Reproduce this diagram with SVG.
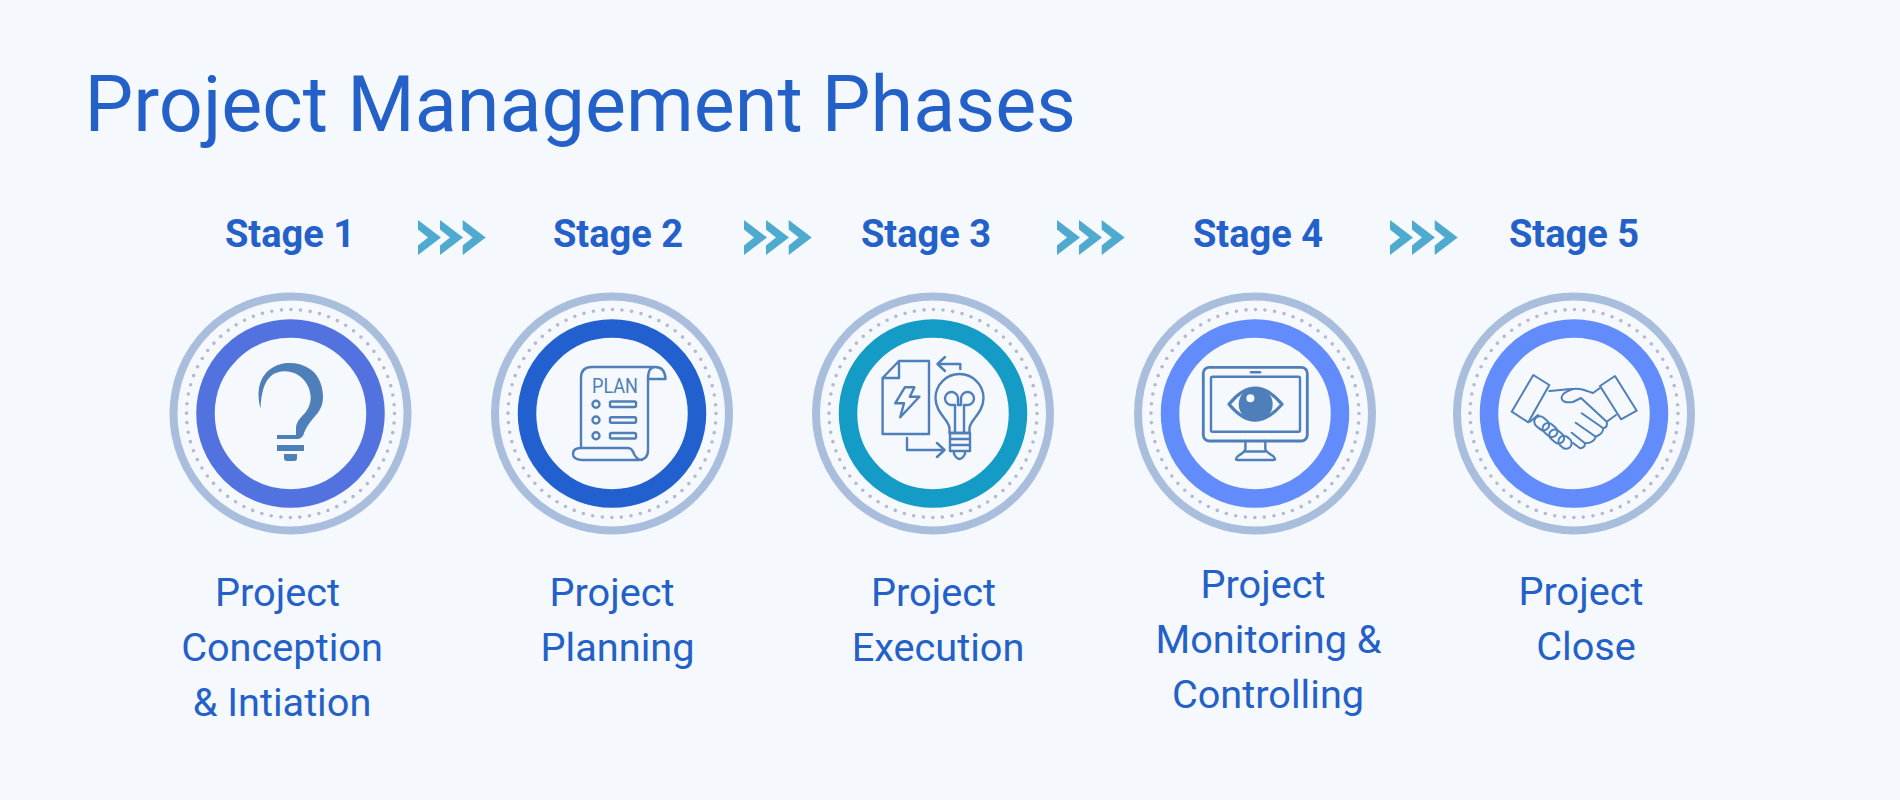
<svg xmlns="http://www.w3.org/2000/svg" width="1900" height="800" viewBox="0 0 1900 800">
<style>
text{font-family:Roboto,"Liberation Sans",sans-serif;fill:#2360C8}
.title{font-size:77.3px}
.stage{font-size:38px;font-weight:700;text-anchor:middle}
.lbl{font-size:39.7px;text-anchor:middle}
.outer{fill:none;stroke:#A9BEDC;stroke-width:8}
.dots{fill:none;stroke:#B4BAC8;stroke-width:3.6;stroke-linecap:round;stroke-dasharray:0 9.61}
.ring{fill:#F5F8FD;stroke-width:18.5}
.ic{fill:none;stroke:#4F7FB8;stroke-width:2.4;stroke-linejoin:round;stroke-linecap:round}
.icf{fill:#4F7FB8}
.chev{fill:#4EAACE}
</style>
<defs>
<path id="ch" class="chev" d="M0 0L23 17.500L0 35V25.500L10 17.500L0 9.500Z"/>
<g id="chevs"><use href="#ch"/><use href="#ch" x="22"/><use href="#ch" x="44.7"/></g>
</defs>
<rect width="1900" height="800" fill="#F5F8FD"/>
<text class="title" x="84.600" y="131">Project Management Phases</text>
<g id="connectors">
<use href="#chevs" x="418" y="220"/>
<use href="#chevs" x="744" y="220"/>
<use href="#chevs" x="1057" y="220"/>
<use href="#chevs" x="1390" y="220"/>
</g>
<g id="stage1">
<text class="stage" x="290" y="246.500">Stage 1</text>
<circle class="outer" cx="290.5" cy="413.5" r="117"/><circle class="dots" cx="290.5" cy="413.5" r="104"/>
<circle class="ring" cx="290.5" cy="413.5" r="85" stroke="#5272E0"/>
<path class="icf" d="M260.600 408.300C256 392 259 376 272 368C280 362.500 296 360 310 369C320 376 323 388 323 397C323 406 319 412 314.600 416.700C309 423 306 428 304 433C303 437 300 439 297 439H277V435H296V428C296 422 301 417 305 413C309 408 311 402 310.700 396.700C310 388 306 380 298 375C290 370 278 370 271 376C264 382 261 394 260.600 408.300Z"/>
<rect class="icf" x="277" y="445" width="27" height="6"/>
<path class="icf" d="M284 454H297V458Q297 461 294 461H287Q284 461 284 458Z"/>
<text class="lbl" x="277.5" y="606">Project</text><text class="lbl" x="282" y="661">Conception</text><text class="lbl" x="282" y="716">&amp; Intiation</text>
</g>
<g id="stage2">
<text class="stage" x="618" y="246.500">Stage 2</text>
<circle class="outer" cx="612" cy="413.5" r="117"/><circle class="dots" cx="612" cy="413.5" r="104"/>
<circle class="ring" cx="612" cy="413.5" r="85" stroke="#2160CE"/>
<path class="ic" d="M581 448V378Q581 367 592 367H655Q665 367 665.5 379H648V450Q648 460 638 460H583Q573 460 573 454Q573 448 581 448H628Q632 448 634 454Q637 460 642 460M655 367Q648 367 648 379"/>
<text x="592" y="393" textLength="46" lengthAdjust="spacingAndGlyphs" style="font-size:19.5px;fill:#4F7FB8">PLAN</text>
<circle class="ic" cx="596" cy="404.3" r="3.5"/><circle class="ic" cx="596" cy="420" r="3.5"/><circle class="ic" cx="596" cy="435.7" r="3.5"/>
<rect class="ic" x="610" y="401.5" width="26" height="5.5" rx="1.5"/><rect class="ic" x="610" y="417.2" width="26" height="5.5" rx="1.5"/><rect class="ic" x="610" y="433" width="26" height="5.5" rx="1.5"/>
<text class="lbl" x="612" y="606">Project</text><text class="lbl" x="617.500" y="661">Planning</text>
</g>
<g id="stage3">
<text class="stage" x="926" y="246.500">Stage 3</text>
<circle class="outer" cx="933" cy="413.5" r="117"/><circle class="dots" cx="933" cy="413.5" r="104"/>
<circle class="ring" cx="933" cy="413.5" r="85" stroke="#149CC6"/>
<path class="ic" d="M882.6 378L899 361H929V434H882.6ZM882.6 378H899V361"/>
<path class="ic" d="M904.8 387.3L895.2 403.3H904L900.2 417.3L919.4 396.7H909.8L914.4 387.3Z"/>
<path class="ic" d="M960.3 369V364H938M945 357L937.5 364L945 371"/>
<path class="ic" d="M949.5 433V428C949 420 935.5 413 935.5 398A24 24 0 0 1 983.5 398C983.5 413 970 420 969.5 428V433Z"/>
<path class="ic" d="M955 433V405H952A6.5 6.5 0 1 1 958 398V405H961V398A6.5 6.5 0 1 1 967 405H964V433"/>
<path class="ic" d="M950 433H970V451H950ZM950 439H970M950 445H970M954 451V454Q959.500 464 965 454V451"/>
<path class="ic" d="M907 438V450H943M937 443L944.500 450L937 457"/>
<text class="lbl" x="933.500" y="606">Project</text><text class="lbl" x="938" y="661">Execution</text>
</g>
<g id="stage4">
<text class="stage" x="1258" y="246.500">Stage 4</text>
<circle class="outer" cx="1255" cy="413.5" r="117"/><circle class="dots" cx="1255" cy="413.5" r="104"/>
<circle class="ring" cx="1255" cy="413.5" r="85" stroke="#628BFB"/>
<rect class="ic" x="1203.300" y="367.300" width="104" height="73.700" rx="6" style="stroke-width:2.8"/>
<rect class="ic" x="1211" y="376.700" width="89" height="55" rx="1.500"/>
<path class="ic" d="M1251 372.300H1260"/>
<path class="ic" d="M1229 404.300Q1255 372 1282 404.300Q1255 436 1229 404.300Z" style="stroke-width:3.200"/>
<circle class="icf" cx="1255.700" cy="404.300" r="17"/><circle cx="1250.400" cy="398.300" r="4" fill="#F5F8FD"/>
<path class="ic" d="M1245.400 441V449Q1245 452 1238 456Q1234 460 1238 460H1273Q1277 460 1273 456Q1266 452 1265.300 449V441M1245 451.500H1265"/>
<text class="lbl" x="1263" y="598.300">Project</text><text class="lbl" x="1268.500" y="653.300">Monitoring &amp;</text><text class="lbl" x="1268" y="708.300">Controlling</text>
</g>
<g id="stage5">
<text class="stage" x="1574" y="246.500">Stage 5</text>
<circle class="outer" cx="1574" cy="413.500" r="117"/><circle class="dots" cx="1574" cy="413.500" r="104"/>
<circle class="ring" cx="1574" cy="413.500" r="85" stroke="#628BFB"/>
<g class="ic" style="stroke-width:2">
<path d="M1533.300 375L1549.300 385L1528.300 422.300L1511.700 411.700Z"/>
<path d="M1615 376L1600 386L1621 419.300L1636.700 410.700Z"/>
<path d="M1549.300 391C1560 390 1568 389 1573 389"/>
<path d="M1600 388L1593 393C1585 390 1580 388 1573 389C1567 391 1562 394 1561.700 397C1561 402 1567 403 1573 402L1581 398L1606.700 421.700L1616 415"/>
<path d="M1606.700 421.700Q1608 427 1603.300 428.300Q1603 434 1595.700 436.700Q1594 443 1585 443.300Q1585 448 1580 448.300L1573 443"/>
<path d="M1581.700 413.300L1603.300 428.300M1575.700 422.700L1595.700 436.700M1571.700 432.700L1585 443.300M1530 421.700L1538 415"/>
<rect x="-8" y="-5.500" width="16" height="11" rx="5.500" transform="translate(1541.700 423.300) rotate(40)"/>
<rect x="-8" y="-5.500" width="16" height="11" rx="5.500" transform="translate(1550 430) rotate(40)"/>
<rect x="-8" y="-5.500" width="16" height="11" rx="5.500" transform="translate(1556.700 436.500) rotate(40)"/>
<rect x="-7" y="-5.500" width="14" height="11" rx="5.500" transform="translate(1565 442.300) rotate(40)"/>
</g>
<text class="lbl" x="1581" y="605">Project</text><text class="lbl" x="1586" y="660">Close</text>
</g>
</svg>
